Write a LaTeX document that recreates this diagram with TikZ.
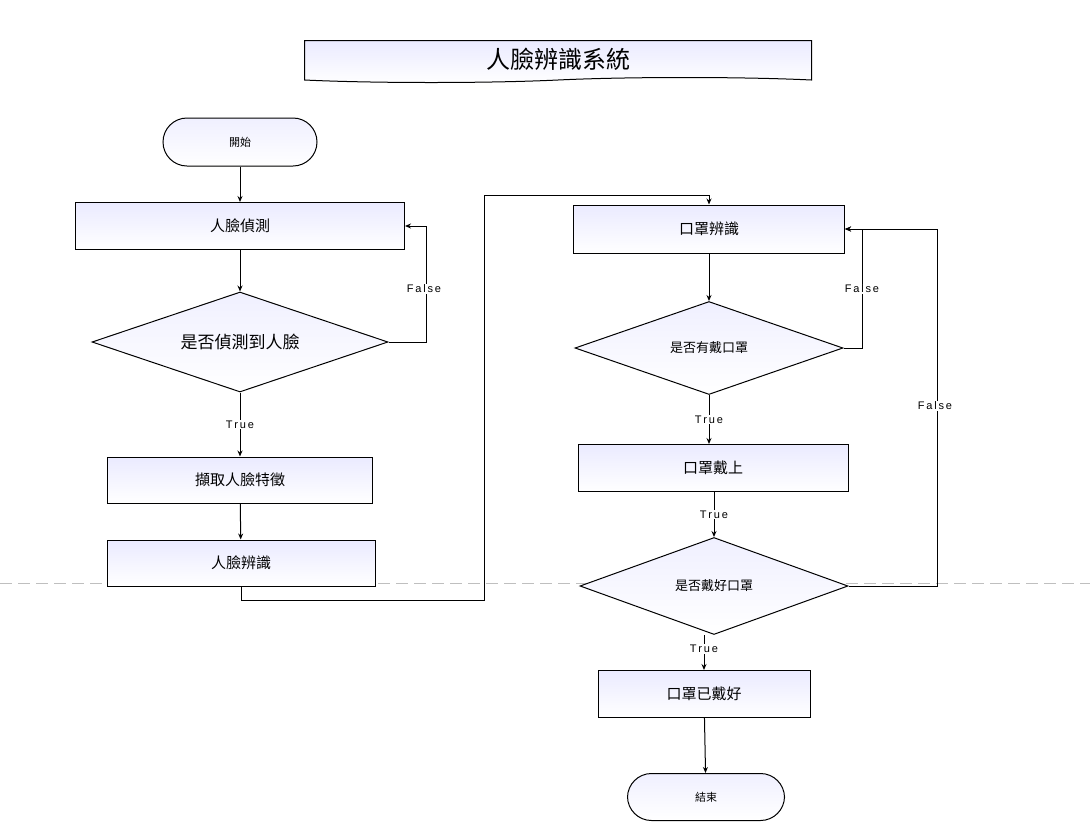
\documentclass[tikz,border=0pt]{standalone}
\usepackage{fontspec}
\setmainfont{Liberation Sans}
\newfontfamily\cjk{Noto Sans CJK TC}
\usetikzlibrary{shapes.geometric,shapes.symbols,arrows.meta}

\begin{document}
\begin{tikzpicture}[x=1pt,y=-1pt,
    box/.style={rectangle, draw=black, line width=1pt, top color=blue!8, bottom color=white, font=\cjk\fontsize{15}{15}\selectfont},
    term/.style={rectangle, rounded corners=24pt, draw=black, line width=1pt, top color=blue!6, bottom color=white, minimum width=154pt, minimum height=48pt, font=\cjk\fontsize{11}{11}\selectfont},
    dec/.style={diamond, aspect=2.9, draw=black, line width=1pt, top color=blue!6, bottom color=white, inner sep=0pt, font=\cjk\fontsize{13}{13}\selectfont},
    arr/.style={-{Stealth[length=6pt,width=5pt]}, line width=1pt},
    lbl/.style={fill=white, inner sep=1pt, font=\fontsize{11}{11}\selectfont}
]
\useasboundingbox (0,0) rectangle (1090,831);
\draw[gray!50, dashed, dash pattern=on 12pt off 6pt, line width=0.8pt] (0,583) -- (1090,583);

% title
\node[tape, tape bend top=none, draw=black, line width=1pt, top color=blue!8, bottom color=white, minimum width=507pt, minimum height=42pt, font=\cjk\fontsize{24}{24}\selectfont] (title) at (558,59) {人臉辨識系統};

% left column
\node[term] (start) at (240,142) {開始};
\node[box, minimum width=329pt, minimum height=47pt] (detect) at (240,226) {人臉偵測};
\node[dec, minimum width=296pt, minimum height=100pt, font=\cjk\fontsize{17}{17}\selectfont] (isface) at (240,342) {是否偵測到人臉};
\node[box, minimum width=265pt, minimum height=46pt] (feat) at (240,480) {擷取人臉特徵};
\node[box, minimum width=268pt, minimum height=46pt] (recog) at (241,563) {人臉辨識};

% right column
\node[box, minimum width=271pt, minimum height=48pt] (mask) at (709,229) {口罩辨識};
\node[dec, minimum width=268pt, minimum height=93pt] (hasmask) at (709,348) {是否有戴口罩};
\node[box, minimum width=270pt, minimum height=47pt] (wear) at (713,468) {口罩戴上};
\node[dec, minimum width=268pt, minimum height=97pt] (okmask) at (714,586) {是否戴好口罩};
\node[box, minimum width=212pt, minimum height=47pt] (done) at (704,694) {口罩已戴好};
\node[term, minimum width=157pt, minimum height=47pt] (end) at (706,797) {結束};

\coordinate (c1) at (426,226);
\coordinate (c2) at (862,229);
\coordinate (c3) at (937,229);

% connectors
\draw[arr] (start) -- (detect);
\draw[arr] (detect) -- (isface);
\draw[arr] (isface.east) -| (c1) -- (detect.east);
\node[lbl] at (424,289) {F\,a\,l\,s\,e};
\draw[arr] (isface) -- node[lbl]{T\,r\,u\,e} (feat);
\draw[arr] (feat) -- (recog);
\draw[arr] (recog.south) |- (484,600) |- (709,195) -- (mask.north);

\draw[arr] (mask) -- (hasmask);
\draw[arr] (hasmask.east) -| (c2) -- (mask.east);
\node[lbl] at (862,289) {F\,a\,l\,s\,e};
\draw[arr] (hasmask.south) -- node[lbl]{T\,r\,u\,e} (wear.north -| hasmask.south);
\draw[arr] (wear.south -| okmask.north) -- node[lbl]{T\,r\,u\,e} (okmask.north);
\draw[arr] (okmask.east) -| (c3) -- (mask.east);
\node[lbl] at (935,406) {F\,a\,l\,s\,e};
\draw[arr] (okmask.south -| done.north) -- node[lbl, pos=0.4]{T\,r\,u\,e} (done.north);
\draw[arr] (done) -- (end);
\end{tikzpicture}
\end{document}
